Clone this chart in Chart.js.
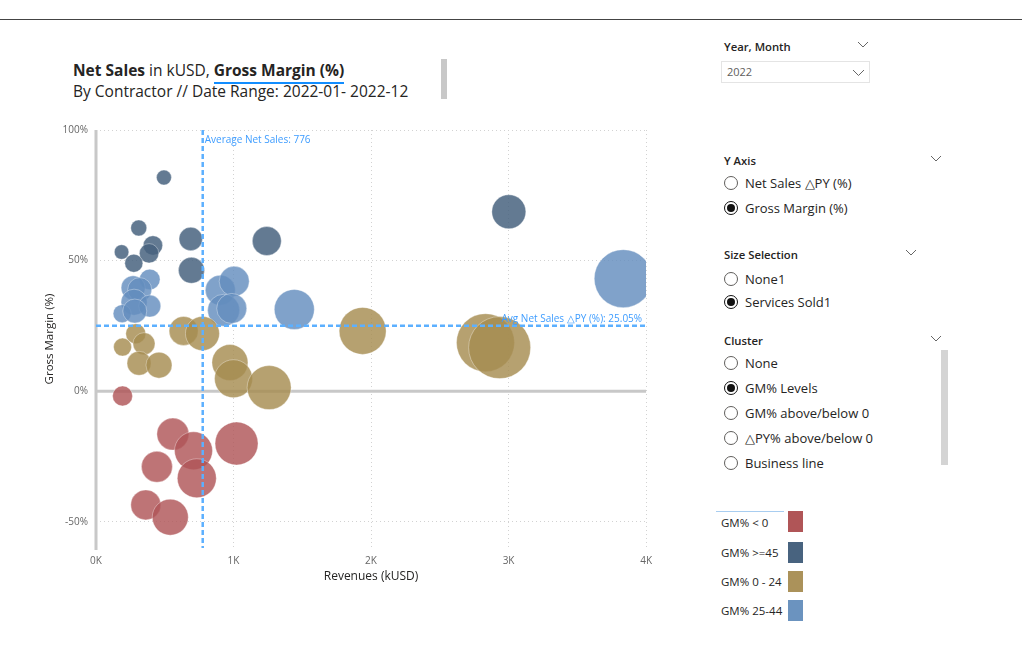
<!DOCTYPE html>
<html lang="en">
<head>
<meta charset="UTF-8">
<title>Net Sales vs Gross Margin by Contractor</title>
<script src="https://cdn.jsdelivr.net/npm/chart.js"></script>
<style>
    body {
        margin: 0;
        width: 1024px;
        height: 657px;
        background: #fff;
        font-family: 'Open Sans', sans-serif;
        color: #252423;
        position: relative;
        overflow: hidden;
    }
    .abs { position: absolute; white-space: nowrap; }
    .topline { left: 0; top: 19px; width: 1022px; height: 1px; background: #444; }
    .title { left: 73px; top: 60px; font-size: 15.5px; line-height: 21px; }
    .title b { font-weight: 700; }
    .title .ul { border-bottom: 2px solid #118dff; padding-bottom: 1px; }
    .grip { left: 441px; top: 59px; width: 6px; height: 40px; background: #c8c8c8; }
    #chartBox { left: 39px; top: 115px; width: 620px; height: 473px; }
    .hdr { font-size: 11.3px; font-weight: 600; line-height: 16px; }
    .opt { font-size: 13px; line-height: 18px; padding-left: 21px; }
    .opt::before {
        content: ''; position: absolute; left: 0; top: 2px;
        width: 12px; height: 12px; border: 1px solid #605e5c; border-radius: 50%;
    }
    .opt.on::before { border-color: #111; }
    .opt.on::after {
        content: ''; position: absolute; left: 3px; top: 5px;
        width: 8px; height: 8px; border-radius: 50%; background: #111;
    }
    .dropdown { left: 721px; top: 61px; width: 147px; height: 20px; border: 1px solid #e4e4e4; }
    .dropdown span { position: absolute; left: 5px; top: 2px; font-size: 11px; color: #605e5c; }
    .scroll { left: 941px; top: 350px; width: 7px; height: 115px; background: #d4d4d4; }
    .legline { left: 716px; top: 511px; width: 68px; height: 1px; background: #a8cdf0; }
    .leg { font-size: 11.5px; line-height: 14px; left: 721px; }
    .sw { left: 788px; width: 15px; height: 21px; }
</style>
</head>
<body>
<div class="abs topline"></div>

<div class="abs title">
    <b>Net Sales</b> in kUSD, <b class="ul">Gross Margin (%)</b><br>
    By Contractor // Date Range: 2022-01- 2022-12
</div>
<div class="abs grip"></div>

<div class="abs" id="chartBox"><canvas id="bubbleChart" width="620" height="473"></canvas></div>

<!-- slicers -->
<div class="abs hdr" style="left:724px; top:39px;">Year, Month</div>
<svg class="abs" style="left:857px; top:41px;" width="12" height="7"><polyline points="1,1 6,6 11,1" fill="none" stroke="#666" stroke-width="1"/></svg>
<div class="abs dropdown"><span>2022</span></div>
<svg class="abs" style="left:852px; top:69px;" width="13" height="8"><polyline points="1,1 6.5,6.5 12,1" fill="none" stroke="#666" stroke-width="1"/></svg>

<div class="abs hdr" style="left:724px; top:153px;">Y Axis</div>
<svg class="abs" style="left:930px; top:155px;" width="12" height="7"><polyline points="1,1 6,6 11,1" fill="none" stroke="#666" stroke-width="1"/></svg>
<div class="abs opt" style="left:724px; top:174px;">Net Sales △PY (%)</div>
<div class="abs opt on" style="left:724px; top:199px;">Gross Margin (%)</div>

<div class="abs hdr" style="left:724px; top:247px;">Size Selection</div>
<svg class="abs" style="left:905px; top:249px;" width="12" height="7"><polyline points="1,1 6,6 11,1" fill="none" stroke="#666" stroke-width="1"/></svg>
<div class="abs opt" style="left:724px; top:270px;">None1</div>
<div class="abs opt on" style="left:724px; top:293px;">Services Sold1</div>

<div class="abs hdr" style="left:724px; top:333px;">Cluster</div>
<svg class="abs" style="left:930px; top:335px;" width="12" height="7"><polyline points="1,1 6,6 11,1" fill="none" stroke="#666" stroke-width="1"/></svg>
<div class="abs opt" style="left:724px; top:354px;">None</div>
<div class="abs opt on" style="left:724px; top:379px;">GM% Levels</div>
<div class="abs opt" style="left:724px; top:404px;">GM% above/below 0</div>
<div class="abs opt" style="left:724px; top:429px;">△PY% above/below 0</div>
<div class="abs opt" style="left:724px; top:454px;">Business line</div>
<div class="abs scroll"></div>

<!-- cluster legend -->
<div class="abs legline"></div>
<div class="abs leg" style="top:516px;">GM% &lt; 0</div>
<div class="abs sw" style="top:511px; background:#b05557;"></div>
<div class="abs leg" style="top:546px;">GM% &gt;=45</div>
<div class="abs sw" style="top:542px; background:#48637f;"></div>
<div class="abs leg" style="top:575px;">GM% 0 - 24</div>
<div class="abs sw" style="top:571px; background:#ab925a;"></div>
<div class="abs leg" style="top:604px;">GM% 25-44</div>
<div class="abs sw" style="top:600px; background:#6b93bf;"></div>

<script>
    // GM% < 0
    const negRevenue = [193, 559, 709, 443, 733, 1022, 362, 540];
    const negMargin  = [-1.8, -16.4, -22.8, -28.9, -33.3, -20.0, -43.5, -48.2];
    const negSold    = [100, 256, 361, 240, 380, 462, 225, 324];

    // GM% >= 45
    const highRevenue = [494, 311, 186, 414, 386, 275, 689, 694, 1242, 3002];
    const highMargin  = [81.8, 62.5, 53.3, 55.8, 52.8, 49.0, 58.3, 46.3, 57.5, 68.7];
    const highSold    = [56, 64, 53, 94, 94, 81, 137, 169, 210, 289];

    // GM% 0 - 24
    const lowRevenue = [289, 349, 193, 313, 458, 637, 774, 974, 1000, 1259, 1939, 2832, 2935];
    const lowMargin  = [22.0, 18.2, 16.9, 10.7, 10.0, 23.1, 22.1, 11.0, 4.8, 1.4, 23.1, 18.6, 16.7];
    const lowSold    = [100, 121, 81, 144, 169, 210, 289, 324, 361, 484, 552, 841, 961];

    // GM% 25-44
    const midRevenue = [391, 270, 318, 277, 391, 190, 282, 904, 1005, 928, 987, 1442, 3834];
    const midMargin  = [42.8, 39.6, 38.9, 34.1, 32.6, 29.7, 30.7, 38.7, 42.1, 31.0, 31.7, 31.3, 43.1];
    const midSold    = [106, 144, 144, 169, 121, 81, 144, 225, 225, 256, 225, 400, 841];

    const avgNetSales = 776;
    const avgDeltaPY = 25.05;
    const xTicks = [0, 1000, 2000, 3000, 4000];
    const yTicks = [-50, 0, 50, 100];

    function points(rev, gm, sold) {
        return rev.map((v, i) => ({ x: v, y: gm[i], r: Math.sqrt(sold[i]) }));
    }

    function bubbleSet(label, rev, gm, sold, color) {
        return {
            label: label,
            data: points(rev, gm, sold),
            backgroundColor: color,
            borderColor: 'rgba(255,255,255,0.35)',
            borderWidth: 1,
            clip: 0
        };
    }

    const lineBlue = '#5cb0ff';

    const refLines = {
        id: 'refLines',
        beforeDatasetsDraw(chart) {
            const { ctx, chartArea: a, scales: { x, y } } = chart;
            ctx.save();
            ctx.strokeStyle = '#c8c8c8';
            ctx.lineWidth = 3;
            const x0 = x.getPixelForValue(0);
            ctx.beginPath();
            ctx.moveTo(x0, a.top);
            ctx.lineTo(x0, a.bottom + 2);
            ctx.stroke();
            const y0 = y.getPixelForValue(0);
            ctx.beginPath();
            ctx.moveTo(a.left, y0);
            ctx.lineTo(a.right, y0);
            ctx.stroke();
            ctx.restore();
        },
        afterDatasetsDraw(chart) {
            const { ctx, chartArea: a, scales: { x, y } } = chart;
            const ax = x.getPixelForValue(avgNetSales);
            const ay = y.getPixelForValue(avgDeltaPY);
            ctx.save();
            ctx.strokeStyle = lineBlue;
            ctx.lineWidth = 2.5;
            ctx.setLineDash([5, 3]);
            ctx.beginPath();
            ctx.moveTo(ax, a.top);
            ctx.lineTo(ax, a.bottom);
            ctx.stroke();
            ctx.beginPath();
            ctx.moveTo(a.left, ay);
            ctx.lineTo(a.right, ay);
            ctx.stroke();
            ctx.setLineDash([]);
            ctx.fillStyle = '#3d9cff';
            ctx.font = '10px "Open Sans"';
            ctx.textBaseline = 'middle';
            ctx.textAlign = 'left';
            ctx.fillText('Average Net Sales: ' + avgNetSales, ax + 2, a.top + 10);
            ctx.textAlign = 'right';
            ctx.fillText('Avg Net Sales △PY (%): ' + avgDeltaPY.toFixed(2) + '%', a.right - 4, ay - 7);
            ctx.restore();
        }
    };

    Chart.defaults.font.family = "'Open Sans', sans-serif";

    const ctx = document.getElementById('bubbleChart').getContext('2d');
    const bubbleChart = new Chart(ctx, {
        type: 'bubble',
        data: {
            datasets: [
                bubbleSet('GM% < 0', negRevenue, negMargin, negSold, 'rgba(176,85,88,0.82)'),
                bubbleSet('GM% >=45', highRevenue, highMargin, highSold, 'rgba(72,99,127,0.85)'),
                bubbleSet('GM% 0 - 24', lowRevenue, lowMargin, lowSold, 'rgba(166,140,80,0.82)'),
                bubbleSet('GM% 25-44', midRevenue, midMargin, midSold, 'rgba(100,142,190,0.82)')
            ]
        },
        options: {
            responsive: false,
            animation: false,
            layout: { autoPadding: false, padding: { top: 15, right: 10, left: 0, bottom: 0 } },
            plugins: {
                legend: { display: false },
                tooltip: { enabled: false }
            },
            scales: {
                x: {
                    type: 'linear',
                    min: 0,
                    max: 4000,
                    afterBuildTicks: s => { s.ticks = xTicks.map(v => ({ value: v })); },
                    afterFit: s => { s.height = 40; },
                    grid: {
                        drawTicks: false,
                        color: c => c.tick && c.tick.value === 0 ? 'rgba(0,0,0,0)' : '#d2d2d2',
                        lineWidth: 1
                    },
                    border: { display: false, dash: [1, 3] },
                    ticks: {
                        padding: 7,
                        color: '#666',
                        font: { size: 10 },
                        callback: v => (v / 1000) + 'K'
                    },
                    title: {
                        display: true,
                        text: 'Revenues (kUSD)',
                        color: '#252423',
                        font: { size: 12 },
                        padding: { top: 4, bottom: 4 }
                    }
                },
                y: {
                    type: 'linear',
                    min: -60,
                    max: 100,
                    afterBuildTicks: s => { s.ticks = yTicks.map(v => ({ value: v })); },
                    afterFit: s => { s.width = 57; },
                    grid: {
                        drawTicks: false,
                        color: c => c.tick && c.tick.value === 0 ? 'rgba(0,0,0,0)' : '#d2d2d2',
                        lineWidth: 1
                    },
                    border: { display: false, dash: [1, 3] },
                    ticks: {
                        padding: 8,
                        color: '#666',
                        font: { size: 10 },
                        callback: v => v + '%'
                    },
                    title: {
                        display: true,
                        text: 'Gross Margin (%)',
                        color: '#252423',
                        font: { size: 11.5 },
                        padding: { top: 4, bottom: 4 }
                    }
                }
            }
        },
        plugins: [refLines]
    });
</script>
</body>
</html>
